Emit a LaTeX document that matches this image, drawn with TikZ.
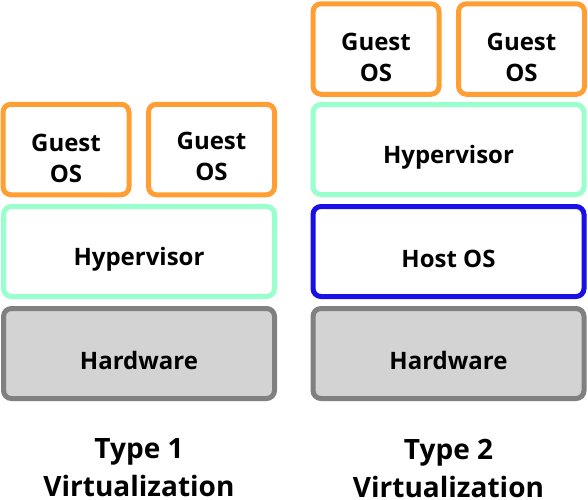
\documentclass[tikz,border=0pt]{standalone}
\usepackage{fontspec}
\setmainfont{Open Sans}
\definecolor{guestc}{HTML}{FF9F33}
\definecolor{hypc}{HTML}{99FFCC}
\definecolor{hostc}{HTML}{1A10E6}
\definecolor{hwline}{HTML}{808080}
\definecolor{hwfill}{HTML}{D3D3D3}
\tikzset{
  layer/.style={draw, line width=5pt, rounded corners=8pt, fill=white, inner sep=0pt},
  guestbox/.style={layer, draw=guestc, minimum width=126pt, minimum height=90.5pt},
  widebox/.style={layer, minimum width=271pt, minimum height=90pt},
  hypbox/.style={widebox, draw=hypc},
  hostbox/.style={widebox, draw=hostc},
  hwbox/.style={widebox, draw=hwline, fill=hwfill},
  boxtext/.style={font=\fontsize{24}{31}\selectfont\bfseries, align=center, inner sep=0pt},
  titletext/.style={font=\fontsize{28}{38}\selectfont\bfseries, align=center, inner sep=0pt},
}
\begin{document}
\begin{tikzpicture}[x=1pt, y=-1pt]
\useasboundingbox (0,0) rectangle (588,499);
% Type 1
\node[guestbox] (g1a) at (66,149.5) {};
\node[boxtext] (g1at) at ([yshift=-9pt]g1a.center) {Guest\\OS};
\node[guestbox] (g1b) at (211.5,149.5) {};
\node[boxtext] (g1bt) at ([yshift=-7pt]g1b.center) {Guest\\OS};
\node[hypbox] (h1) at (139,251.5) {};
\node[boxtext] (h1t) at ([yshift=-8pt]h1.center) {Hypervisor};
\node[hwbox] (hw1) at (139,353.5) {};
\node[boxtext] (hw1t) at ([yshift=-7pt]hw1.center) {Hardware};
\node[titletext] (t1) at (139,468) {Type 1\\Virtualization};
% Type 2
\node[guestbox] (g2a) at (376,49) {};
\node[boxtext] (g2at) at ([yshift=-8pt]g2a.center) {Guest\\OS};
\node[guestbox] (g2b) at (521.5,49) {};
\node[boxtext] (g2bt) at ([yshift=-8pt]g2b.center) {Guest\\OS};
\node[hypbox] (h2) at (448.5,149.5) {};
\node[boxtext] (h2t) at ([yshift=-8pt]h2.center) {Hypervisor};
\node[hostbox] (ho2) at (448.5,251.5) {};
\node[boxtext] (ho2t) at ([yshift=-7pt]ho2.center) {Host OS};
\node[hwbox] (hw2) at (448.5,353.5) {};
\node[boxtext] (hw2t) at ([yshift=-7pt]hw2.center) {Hardware};
\node[titletext] (t2) at (448.5,468) {Type 2\\Virtualization};
\end{tikzpicture}
\end{document}
